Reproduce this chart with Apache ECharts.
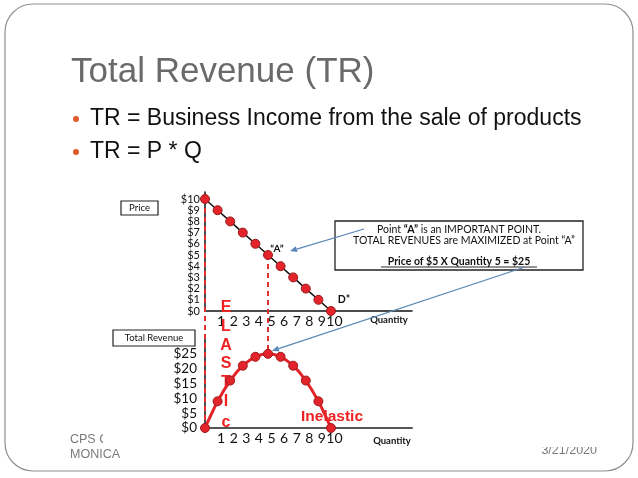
<!DOCTYPE html>
<html><head><meta charset="utf-8">
<script src="https://cdn.jsdelivr.net/npm/echarts@6/dist/echarts.min.js"></script>
<style>html,body{margin:0;padding:0;background:#fff}#c{width:638px;height:478px}</style>
</head><body><div id="c"></div>
<script>
// ---- data ----
const quantities = [0, 1, 2, 3, 4, 5, 6, 7, 8, 9, 10];
const prices = [10, 9, 8, 7, 6, 5, 4, 3, 2, 1, 0];
const revenues = [0, 9, 16, 21, 24, 25, 24, 21, 16, 9, 0];
const qtyTicks = [1, 2, 3, 4, 5, 6, 7, 8, 9, 10];
const priceTicks = [0, 1, 2, 3, 4, 5, 6, 7, 8, 9, 10];
const revenueTicks = [0, 5, 10, 15, 20, 25];
const elasticLetters = ['E', 'L', 'A', 'S', 'T', 'I', 'c'];
const pointA = [5, 5];
const peakTR = [5, 25];

const chart = echarts.init(document.getElementById('c'), null, {renderer: 'canvas'});
const CF = 'Lato, "Open Sans", sans-serif';
const SF = '"Liberation Sans", Arial, sans-serif';
const RED = '#e3242b';

function qtyAxis(grid, color, width) {
  return {
    type: 'value', gridIndex: grid, min: 0, max: 16.43, interval: 1,
    axisLine: {show: true, onZero: false, lineStyle: {color: color, width: width}},
    axisTick: {show: false}, splitLine: {show: false},
    axisLabel: {
      margin: 3, fontFamily: CF, fontSize: 14, color: '#111', padding: [0, 0, 0, 7],
      formatter: v => qtyTicks.includes(v) ? String(v) : ''
    }
  };
}

chart.setOption({
  animation: false,
  grid: [
    {left: 205, top: 192, width: 207, height: 119},
    {left: 205, top: 339, width: 207, height: 89}
  ],
  xAxis: [qtyAxis(0, '#111', 1.5), qtyAxis(1, '#555', 2)],
  yAxis: [
    {type: 'value', gridIndex: 0, min: 0, max: 10.625, interval: 1,
     axisLine: {show: true, lineStyle: {color: '#111', width: 1.5}},
     axisTick: {show: false}, splitLine: {show: false},
     axisLabel: {margin: 5, fontFamily: CF, fontSize: 11, color: '#111',
       formatter: v => priceTicks.includes(v) ? '$' + v : ''}},
    {type: 'value', gridIndex: 1, min: 0, max: 30, interval: 5,
     axisLine: {show: true, lineStyle: {color: '#111', width: 1.5}},
     axisTick: {show: false}, splitLine: {show: false},
     axisLabel: {margin: 8, fontFamily: CF, fontSize: 13.5, color: '#111',
       formatter: v => revenueTicks.includes(v) ? '$' + v : ''}}
  ],
  series: [
    {type: 'line', xAxisIndex: 0, yAxisIndex: 0, z: 10,
     data: quantities.map((q, i) => [q, prices[i]]),
     symbol: 'circle', symbolSize: 9,
     itemStyle: {color: RED, borderColor: '#9b1b1b', borderWidth: 1},
     lineStyle: {color: '#111', width: 1.5}},
    {type: 'line', xAxisIndex: 1, yAxisIndex: 1, z: 10,
     data: quantities.map((q, i) => [q, revenues[i]]),
     symbol: 'circle', symbolSize: 9, smooth: 0.25,
     itemStyle: {color: RED, borderColor: '#9b1b1b', borderWidth: 1},
     lineStyle: {color: RED, width: 3}}
  ]
});

const px = (g, v) => chart.convertToPixel({gridIndex: g}, v);
const p0 = px(0, [quantities[0], prices[0]]);
const b0 = px(1, [quantities[0], revenues[0]]);
const pA = px(0, pointA);
const pT = px(1, peakTR);
const pD = px(0, [quantities[10], prices[10]]);

function arrow(x1, y1, x2, y2) {
  const ang = Math.atan2(y2 - y1, x2 - x1);
  const L = 7, W = 3;
  const bx = x2 - L * Math.cos(ang), by = y2 - L * Math.sin(ang);
  const nx = -Math.sin(ang) * W, ny = Math.cos(ang) * W;
  const st = '#5b87b8';
  return [
    {type: 'line', z: 6, shape: {x1: x1, y1: y1, x2: bx, y2: by}, style: {stroke: st, lineWidth: 1.3}},
    {type: 'polygon', z: 6, shape: {points: [[x2, y2], [bx + nx, by + ny], [bx - nx, by - ny]]}, style: {fill: st}}
  ];
}

const dash = {stroke: '#e0302f', lineWidth: 2, lineDash: [5, 4]};
const letterY = [308, 327, 346, 364, 383, 402, 423];

const g = [
  // slide frame
  {type: 'rect', z: 1, shape: {x: 5, y: 4, width: 628, height: 467, r: 28},
   style: {fill: 'none', stroke: '#8f8f8f', lineWidth: 1.2}},
  // footer (partially covered by the picture)
  {type: 'text', z: -10, style: {x: 70, y: 440, text: 'CPS C', font: '12.5px ' + SF, fill: '#7a7a7a', verticalAlign: 'middle'}},
  {type: 'text', z: -10, style: {x: 70, y: 455, text: 'MONICA', font: '12.5px ' + SF, fill: '#7a7a7a', verticalAlign: 'middle'}},
  {type: 'text', z: -10, style: {x: 597, y: 451, text: '3/21/2020', font: '12.5px ' + SF, fill: '#7a7a7a', align: 'right', verticalAlign: 'middle'}},
  {type: 'rect', z: -5, shape: {x: 103, y: 186, width: 500, height: 261}, style: {fill: '#fff'}},
  // title & bullets
  {type: 'text', z: 1, style: {x: 71, y: 72, text: 'Total Revenue (TR)', font: '35px ' + SF, fill: '#6a6a6a', verticalAlign: 'middle'}},
  {type: 'circle', z: 1, shape: {cx: 76, cy: 119, r: 3}, style: {fill: '#df5b2a'}},
  {type: 'circle', z: 1, shape: {cx: 76, cy: 152, r: 3}, style: {fill: '#df5b2a'}},
  {type: 'text', z: 1, style: {x: 90, y: 119, text: 'TR = Business Income from the sale of products', font: '23px ' + SF, fill: '#111', verticalAlign: 'middle'}},
  {type: 'text', z: 1, style: {x: 90, y: 152, text: 'TR = P * Q', font: '23px ' + SF, fill: '#111', verticalAlign: 'middle'}},
  // axis boxes
  {type: 'rect', z: 1, shape: {x: 121, y: 201, width: 37, height: 14}, style: {fill: '#fff', stroke: '#222', lineWidth: 1.2}},
  {type: 'text', z: 2, style: {x: 139.5, y: 208, text: 'Price', font: '9.5px ' + CF, fill: '#111', align: 'center', verticalAlign: 'middle'}},
  {type: 'rect', z: 1, shape: {x: 113, y: 330, width: 82, height: 16}, style: {fill: '#fff', stroke: '#222', lineWidth: 1.2}},
  {type: 'text', z: 2, style: {x: 154, y: 338, text: 'Total Revenue', font: '9.5px ' + CF, fill: '#111', align: 'center', verticalAlign: 'middle'}},
  // axis names
  {type: 'text', z: 2, style: {x: 389, y: 320, text: 'Quantity', font: 'bold 9.5px ' + CF, fill: '#111', align: 'center', verticalAlign: 'middle'}},
  {type: 'text', z: 2, style: {x: 392, y: 441, text: 'Quantity', font: 'bold 9.5px ' + CF, fill: '#111', align: 'center', verticalAlign: 'middle'}},
  // dashed guides
  {type: 'line', z: 5, shape: {x1: p0[0], y1: p0[1], x2: b0[0], y2: b0[1]}, style: dash},
  {type: 'line', z: 5, shape: {x1: pA[0], y1: pA[1], x2: pT[0], y2: pT[1]}, style: dash},
  // point labels
  {type: 'text', z: 6, style: {x: pA[0] + 9, y: pA[1] - 6, text: '“A”', font: 'bold 10px ' + CF, fill: '#111', align: 'center', verticalAlign: 'middle'}},
  {type: 'text', z: 6, style: {x: pD[0] + 13, y: pD[1] - 11, text: 'D*', font: 'bold 10.5px ' + CF, fill: '#111', align: 'center', verticalAlign: 'middle'}},
  // annotation box
  {type: 'rect', z: 1, shape: {x: 335, y: 221, width: 248, height: 49}, style: {fill: '#fff', stroke: '#222', lineWidth: 1.3}},
  {type: 'text', z: 2, style: {x: 459, y: 229.5, text: '{n|Point }{b|“A”}{n| is an IMPORTANT POINT.}', align: 'center', verticalAlign: 'middle',
    rich: {n: {font: '10.5px ' + CF, fill: '#111'}, b: {font: 'bold 10.5px ' + CF, fill: '#111'}}}},
  {type: 'text', z: 2, style: {x: 464, y: 241, text: 'TOTAL REVENUES are MAXIMIZED at Point “A”', font: '10.5px ' + CF, fill: '#111', align: 'center', verticalAlign: 'middle'}},
  {type: 'text', z: 2, style: {x: 459, y: 261.5, text: 'Price of $5 X Quantity 5 = $25', font: 'bold 10.5px ' + CF, fill: '#111', align: 'center', verticalAlign: 'middle'}},
  {type: 'line', z: 2, shape: {x1: 381, y1: 267, x2: 537, y2: 267}, style: {stroke: '#111', lineWidth: 0.9}},
  // labels
  {type: 'text', z: 7, style: {x: 332, y: 417, text: 'Inelastic', font: 'bold 15.5px ' + SF, fill: '#ee2222', align: 'center', verticalAlign: 'middle'}}
];
elasticLetters.forEach((ch, i) => {
  g.push({type: 'text', z: 7, style: {x: 226, y: letterY[i], text: ch, font: 'bold 16px ' + SF, fill: '#ee2222', align: 'center', verticalAlign: 'middle'}});
});
arrow(364, 229, pA[0] + 22, pA[1] - 4).forEach(e => g.push(e));
arrow(525, 267, pT[0] + 4, pT[1] - 3).forEach(e => g.push(e));

chart.setOption({graphic: g});
</script>
</body></html>
